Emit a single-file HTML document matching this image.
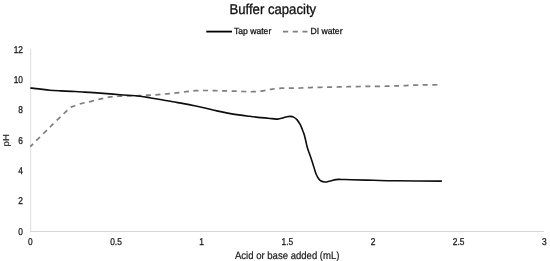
<!DOCTYPE html>
<html><head><meta charset="utf-8"><style>
html,body{margin:0;padding:0;background:#fff;}
body{width:550px;height:261px;overflow:hidden;}
svg{display:block;text-rendering:geometricPrecision;font-family:"Liberation Sans", Arial, sans-serif;}
</style></head><body>
<svg width="550" height="261" viewBox="0 0 550 261">
<rect width="550" height="261" fill="#fff"/>
<text transform="translate(272.80,14.00) scale(1,1.090)" font-size="13.15" text-anchor="middle" fill="#111" stroke="#111" stroke-width="0.3">Buffer capacity</text>
<line x1="206.3" y1="31.6" x2="232" y2="31.6" stroke="#000" stroke-width="1.8"/>
<text transform="translate(233.90,33.80) scale(1,1.030)" font-size="8.65" text-anchor="start" fill="#111" stroke="#111" stroke-width="0.25">Tap water</text>
<line x1="283" y1="31.6" x2="307.4" y2="31.6" stroke="#7f7f7f" stroke-width="1.8" stroke-dasharray="5.2 4.5"/>
<text transform="translate(310.40,33.80) scale(1,1.030)" font-size="8.65" text-anchor="start" fill="#111" stroke="#111" stroke-width="0.25">DI water</text>
<line x1="30.6" y1="49" x2="30.6" y2="231.5" stroke="#e3e3e3" stroke-width="1.15"/>
<line x1="30" y1="231.55" x2="544" y2="231.55" stroke="#d6d6d6" stroke-width="1.1"/>
<g stroke="#222" stroke-width="0.25"><text transform="translate(23.00,234.55) scale(1,1.180)" font-size="8.40" text-anchor="end" fill="#222">0</text><text transform="translate(23.00,204.21) scale(1,1.180)" font-size="8.40" text-anchor="end" fill="#222">2</text><text transform="translate(23.00,173.87) scale(1,1.180)" font-size="8.40" text-anchor="end" fill="#222">4</text><text transform="translate(23.00,143.53) scale(1,1.180)" font-size="8.40" text-anchor="end" fill="#222">6</text><text transform="translate(23.00,113.19) scale(1,1.180)" font-size="8.40" text-anchor="end" fill="#222">8</text><text transform="translate(23.00,82.85) scale(1,1.180)" font-size="8.40" text-anchor="end" fill="#222">10</text><text transform="translate(23.00,52.51) scale(1,1.180)" font-size="8.40" text-anchor="end" fill="#222">12</text><text transform="translate(30.30,244.90) scale(1,1.180)" font-size="8.40" text-anchor="middle" fill="#222">0</text><text transform="translate(115.97,244.90) scale(1,1.180)" font-size="8.40" text-anchor="middle" fill="#222">0.5</text><text transform="translate(201.63,244.90) scale(1,1.180)" font-size="8.40" text-anchor="middle" fill="#222">1</text><text transform="translate(287.30,244.90) scale(1,1.180)" font-size="8.40" text-anchor="middle" fill="#222">1.5</text><text transform="translate(372.96,244.90) scale(1,1.180)" font-size="8.40" text-anchor="middle" fill="#222">2</text><text transform="translate(458.63,244.90) scale(1,1.180)" font-size="8.40" text-anchor="middle" fill="#222">2.5</text><text transform="translate(544.29,244.90) scale(1,1.180)" font-size="8.40" text-anchor="middle" fill="#222">3</text></g>
<text transform="translate(9.0,140.3) rotate(-90) scale(1.1,1)" font-size="8.7" text-anchor="middle" fill="#222" stroke="#222" stroke-width="0.2">pH</text>
<text transform="translate(287.20,258.50) scale(1,1.120)" font-size="9.55" text-anchor="middle" fill="#222" stroke="#222" stroke-width="0.2">Acid or base added (mL)</text>
<path id="di" d="M30.30,146.60 C33.35,143.58 42.43,134.55 48.60,128.50 C54.77,122.45 63.20,114.00 67.30,110.30 C71.40,106.60 70.68,107.47 73.20,106.30 C75.72,105.13 79.38,104.13 82.40,103.30 C85.42,102.47 88.23,102.03 91.30,101.30 C94.37,100.57 97.65,99.63 100.80,98.90 C103.95,98.17 107.08,97.37 110.20,96.90 C113.32,96.43 116.37,96.25 119.50,96.10 C122.63,95.95 125.78,96.07 129.00,96.00 C132.22,95.93 135.58,95.83 138.80,95.70 C142.02,95.57 145.10,95.38 148.30,95.20 C151.50,95.02 154.85,94.83 158.00,94.60 C161.15,94.37 164.07,94.10 167.20,93.80 C170.33,93.50 173.62,93.15 176.80,92.80 C179.98,92.45 183.17,92.05 186.30,91.70 C189.43,91.35 192.40,90.90 195.60,90.70 C198.80,90.50 202.28,90.50 205.50,90.50 C208.72,90.50 211.75,90.63 214.90,90.70 C218.05,90.77 221.22,90.83 224.40,90.90 C227.58,90.97 230.82,91.00 234.00,91.10 C237.18,91.20 240.33,91.40 243.50,91.50 C246.67,91.60 249.75,91.82 253.00,91.70 C256.25,91.58 259.80,91.23 263.00,90.80 C266.20,90.37 269.12,89.53 272.20,89.10 C275.28,88.67 278.33,88.37 281.50,88.20 C284.67,88.03 288.03,88.13 291.20,88.10 C294.37,88.07 297.35,88.09 300.50,88.00 C303.65,87.91 306.85,87.67 310.10,87.55 C313.35,87.43 316.83,87.36 320.00,87.30 C323.17,87.24 325.88,87.27 329.10,87.20 C332.32,87.13 335.98,86.98 339.30,86.90 C342.62,86.82 344.22,86.78 349.00,86.70 C353.78,86.62 361.67,86.48 368.00,86.40 C374.33,86.32 382.25,86.28 387.00,86.20 C391.75,86.12 393.33,86.00 396.50,85.90 C399.67,85.80 402.78,85.73 406.00,85.60 C409.22,85.47 412.63,85.22 415.80,85.10 C418.97,84.98 421.80,84.95 425.00,84.90 C428.20,84.85 432.28,84.83 435.00,84.80 C437.72,84.77 440.25,84.72 441.30,84.70" fill="none" stroke="#7f7f7f" stroke-width="1.7" stroke-dasharray="5.1 4.466" stroke-dashoffset="1.05"/>
<path id="tap" d="M30.20,88.00 C31.65,88.15 35.63,88.53 38.90,88.90 C42.17,89.27 46.17,89.87 49.80,90.20 C53.43,90.53 57.07,90.70 60.70,90.90 C64.33,91.10 67.97,91.22 71.60,91.40 C75.23,91.58 77.77,91.72 82.50,92.00 C87.23,92.28 93.75,92.65 100.00,93.10 C106.25,93.55 113.33,94.18 120.00,94.70 C126.67,95.22 134.85,95.65 140.00,96.20 C145.15,96.75 147.27,97.40 150.90,98.00 C154.53,98.60 158.17,99.17 161.80,99.80 C165.43,100.43 169.07,101.17 172.70,101.80 C176.33,102.43 179.97,102.95 183.60,103.60 C187.23,104.25 190.78,104.93 194.50,105.70 C198.22,106.47 202.18,107.33 205.90,108.20 C209.62,109.07 213.17,110.08 216.80,110.90 C220.43,111.72 224.07,112.43 227.70,113.10 C231.33,113.77 234.97,114.37 238.60,114.90 C242.23,115.43 245.78,115.85 249.50,116.30 C253.22,116.75 257.18,117.22 260.90,117.60 C264.62,117.98 268.98,118.35 271.80,118.60 C274.62,118.85 275.98,119.20 277.80,119.10 C279.62,119.00 281.15,118.40 282.70,118.00 C284.25,117.60 285.83,116.97 287.10,116.70 C288.37,116.43 289.22,116.33 290.30,116.40 C291.38,116.47 292.50,116.57 293.60,117.10 C294.70,117.63 295.83,118.42 296.90,119.60 C297.97,120.78 299.10,122.55 300.00,124.20 C300.90,125.85 301.57,127.67 302.30,129.50 C303.03,131.33 303.80,133.20 304.40,135.20 C305.00,137.20 305.37,139.28 305.90,141.50 C306.43,143.72 306.87,146.08 307.60,148.50 C308.33,150.92 309.47,153.58 310.30,156.00 C311.13,158.42 311.88,160.75 312.60,163.00 C313.32,165.25 313.98,167.58 314.60,169.50 C315.22,171.42 315.65,173.00 316.30,174.50 C316.95,176.00 317.72,177.42 318.50,178.50 C319.28,179.58 319.95,180.42 321.00,181.00 C322.05,181.58 323.60,181.92 324.80,182.00 C326.00,182.08 327.00,181.75 328.20,181.50 C329.40,181.25 330.73,180.82 332.00,180.50 C333.27,180.18 334.68,179.78 335.80,179.60 C336.92,179.42 337.42,179.42 338.70,179.40 C339.98,179.38 341.32,179.45 343.50,179.50 C345.68,179.55 346.78,179.57 351.80,179.70 C356.82,179.83 366.32,180.12 373.60,180.30 C380.88,180.48 384.12,180.67 395.50,180.80 C406.88,180.93 434.17,181.05 441.90,181.10" fill="none" stroke="#0d0d0d" stroke-width="1.6" stroke-linejoin="round"/>
</svg>
</body></html>
